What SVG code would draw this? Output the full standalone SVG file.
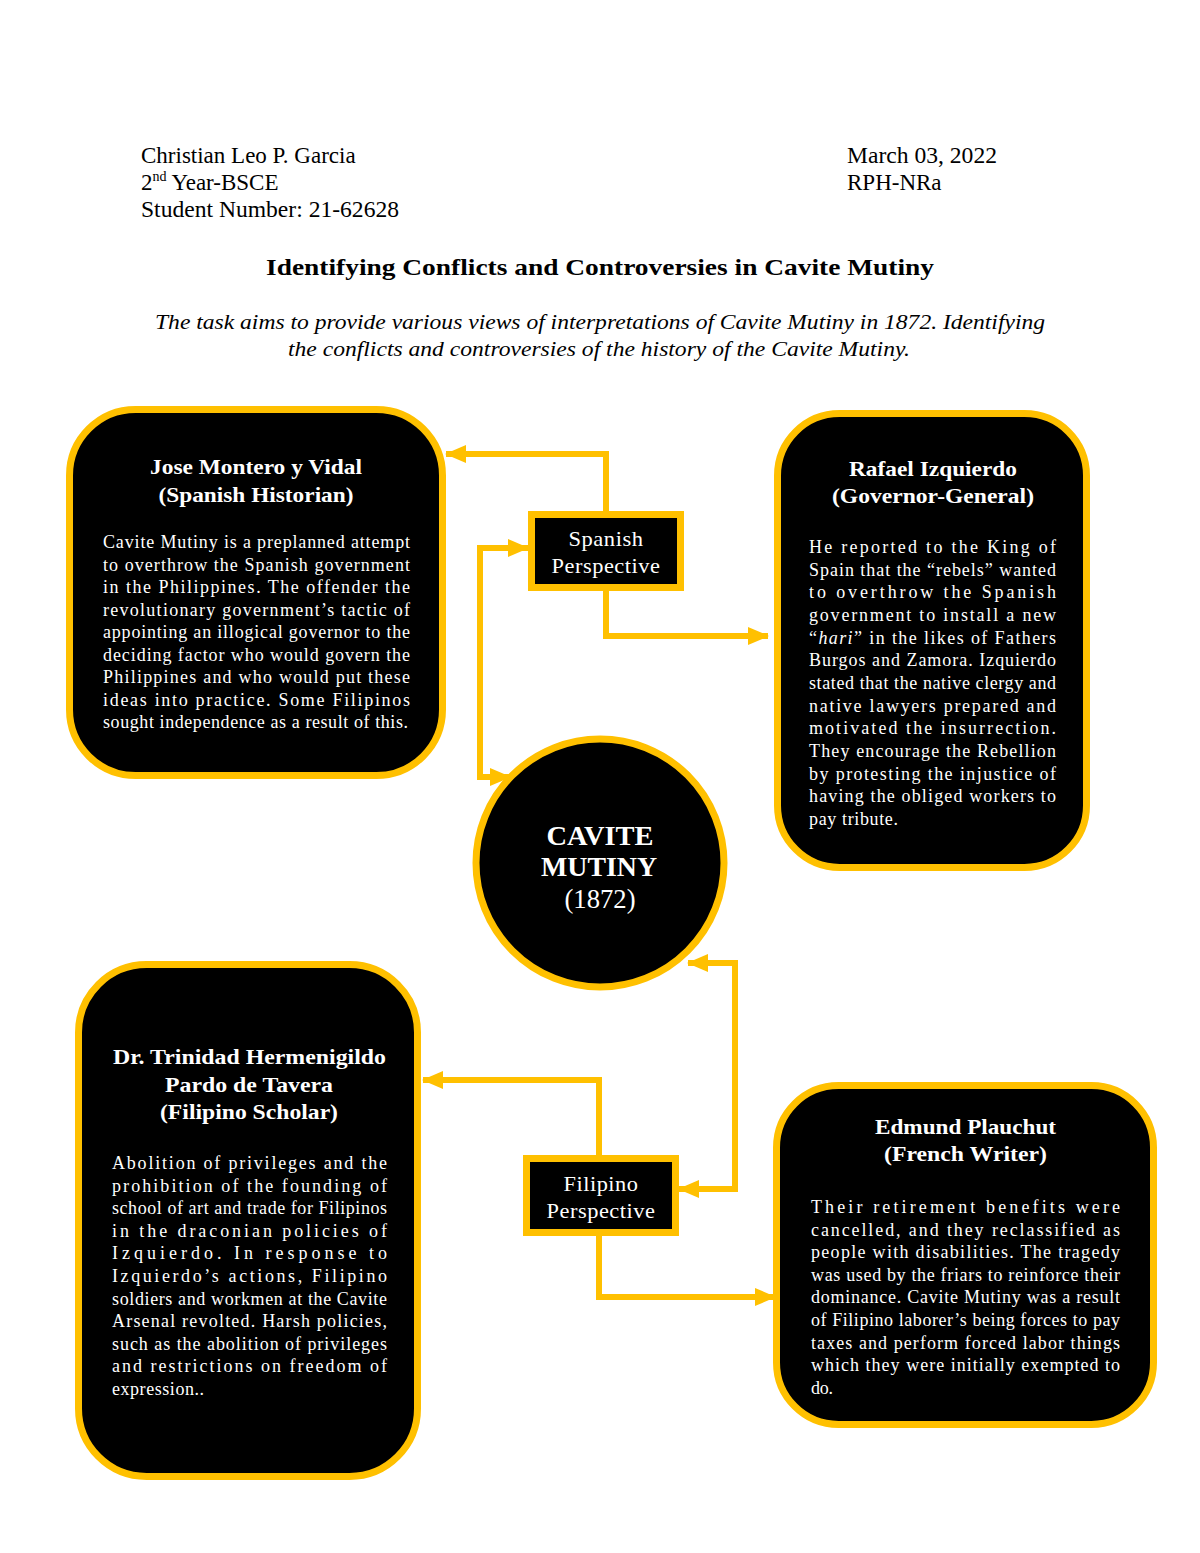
<svg xmlns="http://www.w3.org/2000/svg" width="1200" height="1553" viewBox="0 0 1200 1553">
<style>
  text { font-family: "Liberation Serif", "Times New Roman", serif; }
  .hdr { font-size: 23px; fill: #000; }
  .ttl { font-size: 24px; font-weight: bold; fill: #000; }
  .sub { font-size: 21px; font-style: italic; fill: #000; }
  .box { fill: #000; stroke: #FFC000; stroke-width: 7; }
  .nt { font-size: 22px; font-weight: bold; fill: #fff; text-anchor: middle; }
  .bd { font-size: 18px; fill: #fff; }
  .pt { font-size: 21px; fill: #fff; text-anchor: middle; letter-spacing: 0.5px; }
  .ct { font-size: 27px; fill: #fff; text-anchor: middle; }
  .con { fill: none; stroke: #FFC000; stroke-width: 6; }
</style>
<defs>
  <marker id="arr" markerUnits="userSpaceOnUse" markerWidth="22" markerHeight="20" refX="20" refY="10" orient="auto-start-reverse" viewBox="0 0 22 20">
    <path d="M0,1 L21,10 L0,19 Z" fill="#FFC000"/>
  </marker>
</defs>
<rect width="1200" height="1553" fill="#fff"/>

<g id="header">
  <text class="hdr" x="141" y="163">Christian Leo P. Garcia</text>
  <text class="hdr" x="141" y="190">2<tspan font-size="14" dy="-9">nd</tspan><tspan dy="9"> Year-BSCE</tspan></text>
  <text class="hdr" x="141" y="217" textLength="258" lengthAdjust="spacingAndGlyphs">Student Number: 21-62628</text>
  <text class="hdr" x="847" y="163" textLength="150" lengthAdjust="spacingAndGlyphs">March 03, 2022</text>
  <text class="hdr" x="847" y="190">RPH-NRa</text>
  <text class="ttl" x="600" y="275" text-anchor="middle" textLength="668" lengthAdjust="spacingAndGlyphs">Identifying Conflicts and Controversies in Cavite Mutiny</text>
  <text class="sub" x="600" y="329" text-anchor="middle" textLength="890" lengthAdjust="spacingAndGlyphs">The task aims to provide various views of interpretations of Cavite Mutiny in 1872. Identifying</text>
  <text class="sub" x="599" y="356" text-anchor="middle" textLength="622" lengthAdjust="spacingAndGlyphs">the conflicts and controversies of the history of the Cavite Mutiny.</text>
</g>

<g id="connectors">
  <path class="con" d="M606,514 V454 H446" marker-end="url(#arr)"/>
  <path class="con" d="M606,588 V636 H768" marker-end="url(#arr)"/>
  <path class="con" d="M510,777 H480 V548 H528" marker-start="url(#arr)" marker-end="url(#arr)"/>
  <path class="con" d="M599,1158 V1080 H423" marker-end="url(#arr)"/>
  <path class="con" d="M599,1233 V1297 H775" marker-end="url(#arr)"/>
  <path class="con" d="M679,1189 H735 V963 H688" marker-start="url(#arr)" marker-end="url(#arr)"/>
</g>

<g id="node-montero">
  <rect class="box" x="69.5" y="409.5" width="373" height="366" rx="66"/>
  <text class="nt" x="256" y="474" textLength="212" lengthAdjust="spacingAndGlyphs">Jose Montero y Vidal</text>
  <text class="nt" x="256" y="502" textLength="195" lengthAdjust="spacingAndGlyphs">(Spanish Historian)</text>
  <text class="bd" x="103" y="548" textLength="307" lengthAdjust="spacing">Cavite Mutiny is a preplanned attempt</text>
  <text class="bd" x="103" y="570.5" textLength="307" lengthAdjust="spacing">to overthrow the Spanish government</text>
  <text class="bd" x="103" y="593" textLength="307" lengthAdjust="spacing">in the Philippines. The offender the</text>
  <text class="bd" x="103" y="615.5" textLength="307" lengthAdjust="spacing">revolutionary government’s tactic of</text>
  <text class="bd" x="103" y="638" textLength="307" lengthAdjust="spacing">appointing an illogical governor to the</text>
  <text class="bd" x="103" y="660.5" textLength="307" lengthAdjust="spacing">deciding factor who would govern the</text>
  <text class="bd" x="103" y="683" textLength="307" lengthAdjust="spacing">Philippines and who would put these</text>
  <text class="bd" x="103" y="705.5" textLength="307" lengthAdjust="spacing">ideas into  practice. Some Filipinos</text>
  <text class="bd" x="103" y="728" textLength="305" lengthAdjust="spacing">sought independence as a result of this.</text>
</g>

<g id="node-izquierdo">
  <rect class="box" x="777.5" y="413.5" width="309" height="454" rx="62"/>
  <text class="nt" x="933" y="476" textLength="168" lengthAdjust="spacingAndGlyphs">Rafael Izquierdo</text>
  <text class="nt" x="933" y="503" textLength="202" lengthAdjust="spacingAndGlyphs">(Governor-General)</text>
  <text class="bd" x="809" y="553" textLength="247" lengthAdjust="spacing">He reported to the King of</text>
  <text class="bd" x="809" y="575.7" textLength="247" lengthAdjust="spacing">Spain that the “rebels” wanted</text>
  <text class="bd" x="809" y="598.3" textLength="247" lengthAdjust="spacing">to overthrow the Spanish</text>
  <text class="bd" x="809" y="621" textLength="247" lengthAdjust="spacing">government to install a new</text>
  <text class="bd" x="809" y="643.7" textLength="247" lengthAdjust="spacing">“<tspan font-style="italic">hari</tspan>” in the likes of Fathers</text>
  <text class="bd" x="809" y="666.3" textLength="247" lengthAdjust="spacing">Burgos and Zamora. Izquierdo</text>
  <text class="bd" x="809" y="689" textLength="247" lengthAdjust="spacing">stated that the native clergy and</text>
  <text class="bd" x="809" y="711.7" textLength="247" lengthAdjust="spacing">native lawyers prepared and</text>
  <text class="bd" x="809" y="734.3" textLength="247" lengthAdjust="spacing">motivated the insurrection.</text>
  <text class="bd" x="809" y="757" textLength="247" lengthAdjust="spacing">They encourage the Rebellion</text>
  <text class="bd" x="809" y="779.7" textLength="247" lengthAdjust="spacing">by protesting the injustice of</text>
  <text class="bd" x="809" y="802.3" textLength="247" lengthAdjust="spacing">having the obliged workers to</text>
  <text class="bd" x="809" y="825" textLength="89" lengthAdjust="spacing">pay tribute.</text>
</g>

<g id="node-cavite-mutiny">
  <circle class="box" cx="600" cy="863" r="124"/>
  <text class="ct" x="600" y="845" font-weight="bold" textLength="107" lengthAdjust="spacingAndGlyphs">CAVITE</text>
  <text class="ct" x="599" y="876" font-weight="bold" textLength="116" lengthAdjust="spacingAndGlyphs">MUTINY</text>
  <text class="ct" x="600" y="908" textLength="71" lengthAdjust="spacingAndGlyphs">(1872)</text>
</g>

<g id="node-spanish-perspective">
  <rect class="box" x="531.5" y="514.5" width="149" height="73"/>
  <text class="pt" x="606" y="546" textLength="75" lengthAdjust="spacingAndGlyphs">Spanish</text>
  <text class="pt" x="606" y="573" textLength="109" lengthAdjust="spacingAndGlyphs">Perspective</text>
</g>

<g id="node-filipino-perspective">
  <rect class="box" x="526.5" y="1158.5" width="149" height="74"/>
  <text class="pt" x="601" y="1191" textLength="75" lengthAdjust="spacingAndGlyphs">Filipino</text>
  <text class="pt" x="601" y="1218" textLength="109" lengthAdjust="spacingAndGlyphs">Perspective</text>
</g>

<g id="node-pardo-de-tavera">
  <rect class="box" x="78.5" y="964.5" width="339" height="512" rx="68"/>
  <text class="nt" x="249.5" y="1064" textLength="273" lengthAdjust="spacingAndGlyphs">Dr. Trinidad Hermenigildo</text>
  <text class="nt" x="249" y="1092" textLength="168" lengthAdjust="spacingAndGlyphs">Pardo de Tavera</text>
  <text class="nt" x="249" y="1119" textLength="178" lengthAdjust="spacingAndGlyphs">(Filipino Scholar)</text>
  <text class="bd" x="112" y="1169" textLength="275" lengthAdjust="spacing">Abolition of privileges and the</text>
  <text class="bd" x="112" y="1191.6" textLength="275" lengthAdjust="spacing">prohibition of the founding of</text>
  <text class="bd" x="112" y="1214.2" textLength="275" lengthAdjust="spacing">school of art and trade for Filipinos</text>
  <text class="bd" x="112" y="1236.8" textLength="275" lengthAdjust="spacing">in the draconian policies of</text>
  <text class="bd" x="112" y="1259.4" textLength="275" lengthAdjust="spacing">Izquierdo. In response to</text>
  <text class="bd" x="112" y="1282" textLength="275" lengthAdjust="spacing">Izquierdo’s actions, Filipino</text>
  <text class="bd" x="112" y="1304.6" textLength="275" lengthAdjust="spacing">soldiers and workmen at the Cavite</text>
  <text class="bd" x="112" y="1327.2" textLength="275" lengthAdjust="spacing">Arsenal revolted. Harsh policies,</text>
  <text class="bd" x="112" y="1349.8" textLength="275" lengthAdjust="spacing">such as the abolition of privileges</text>
  <text class="bd" x="112" y="1372.4" textLength="275" lengthAdjust="spacing">and restrictions on freedom of</text>
  <text class="bd" x="112" y="1395" textLength="92" lengthAdjust="spacing">expression..</text>
</g>

<g id="node-plauchut">
  <rect class="box" x="776.5" y="1085.5" width="377" height="339" rx="62"/>
  <text class="nt" x="965.5" y="1134" textLength="181" lengthAdjust="spacingAndGlyphs">Edmund Plauchut</text>
  <text class="nt" x="965.5" y="1161" textLength="163" lengthAdjust="spacingAndGlyphs">(French Writer)</text>
  <text class="bd" x="811" y="1213" textLength="309" lengthAdjust="spacing">Their retirement benefits were</text>
  <text class="bd" x="811" y="1235.6" textLength="309" lengthAdjust="spacing">cancelled, and they reclassified as</text>
  <text class="bd" x="811" y="1258.2" textLength="309" lengthAdjust="spacing">people with disabilities. The tragedy</text>
  <text class="bd" x="811" y="1280.8" textLength="309" lengthAdjust="spacing">was used by the friars to reinforce their</text>
  <text class="bd" x="811" y="1303.4" textLength="309" lengthAdjust="spacing">dominance. Cavite Mutiny was a result</text>
  <text class="bd" x="811" y="1326" textLength="309" lengthAdjust="spacing">of Filipino laborer’s being forces to pay</text>
  <text class="bd" x="811" y="1348.6" textLength="309" lengthAdjust="spacing">taxes and perform forced labor things</text>
  <text class="bd" x="811" y="1371.2" textLength="309" lengthAdjust="spacing">which they were initially exempted to</text>
  <text class="bd" x="811" y="1394" textLength="22" lengthAdjust="spacing">do.</text>
</g>
</svg>
